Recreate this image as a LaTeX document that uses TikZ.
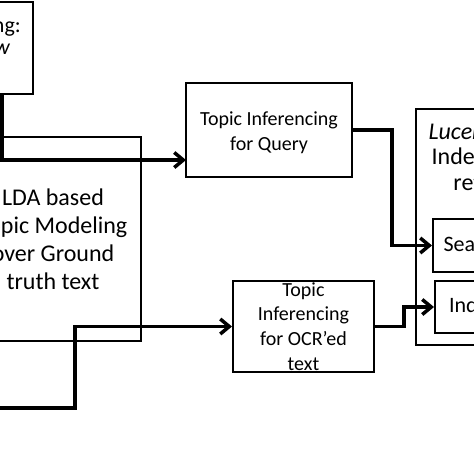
\documentclass[tikz,border=0pt]{standalone}
\usepackage{fontspec}
\setmainfont{Carlito}
\usetikzlibrary{arrows.meta}

\begin{document}
\begin{tikzpicture}[x=1pt, y=-1pt,
    box/.style={draw, line width=2pt, rectangle, inner sep=0pt, align=center},
    arr/.style={line width=3.5pt, -{Straight Barb[length=9pt,width=15pt]}},
    link/.style={line width=3.5pt}]
        % Frame
        \useasboundingbox (0,0) rectangle (474,474);
        \clip (0,0) rectangle (474,474);

        % Boxes
        \node[box, minimum width=133, minimum height=92] (qbox) at (-33.5,48) {};
        \node[anchor=east, inner sep=0pt, font=\fontsize{22}{26}\selectfont] (qtext) at (21,27) {Querying:};
        \node[anchor=east, inner sep=0pt, font=\fontsize{22}{26}\selectfont\itshape] (qword) at (10,47) {view};
        \node[box, minimum width=176, minimum height=204, font=\fontsize{24}{28}\selectfont] (lda) at (53,239)
            {LDA based\\Topic Modeling\\over Ground\\truth text};
        \node[box, minimum width=166, minimum height=94, font=\fontsize{20}{25}\selectfont] (tiq) at (269,130)
            {\rule{0pt}{19pt}Topic Inferencing\\for Query};
        \node[box, minimum width=141, minimum height=91, font=\fontsize{20}{24.7}\selectfont] (ocr) at (303.5,326.5)
            {Topic\\Inferencing\\for OCR'ed\\text};
        \node[box, minimum width=142, minimum height=236] (lucene) at (487,227) {};
        \node[anchor=north, align=center, font=\fontsize{24}{25.5}\selectfont] (lutext) at (494,119)
            {\textit{Lucene} based\\Indexing and\\retrieval};
        \node[box, minimum width=108, minimum height=53, font=\fontsize{22}{26}\selectfont] (search) at (487,245.5) {Searching};
        \node[box, minimum width=104, minimum height=52, font=\fontsize{22}{26}\selectfont] (index) at (487,307) {Indexing};

        % Connectors
        \coordinate (qout) at (2,94);
        \coordinate (qin) at (186,160);
        \coordinate (ldaout) at (-10,408);
        \draw[arr] (qout) |- (qin);
        \draw[arr] (ldaout) -- (75,408) |- (ocr.west);
        \draw[arr] (tiq.east) -- (392,130) |- (search.west);
        \draw[arr] (ocr.east) -- (404,326.5) |- (index.west);
    \end{tikzpicture}
\end{document}
